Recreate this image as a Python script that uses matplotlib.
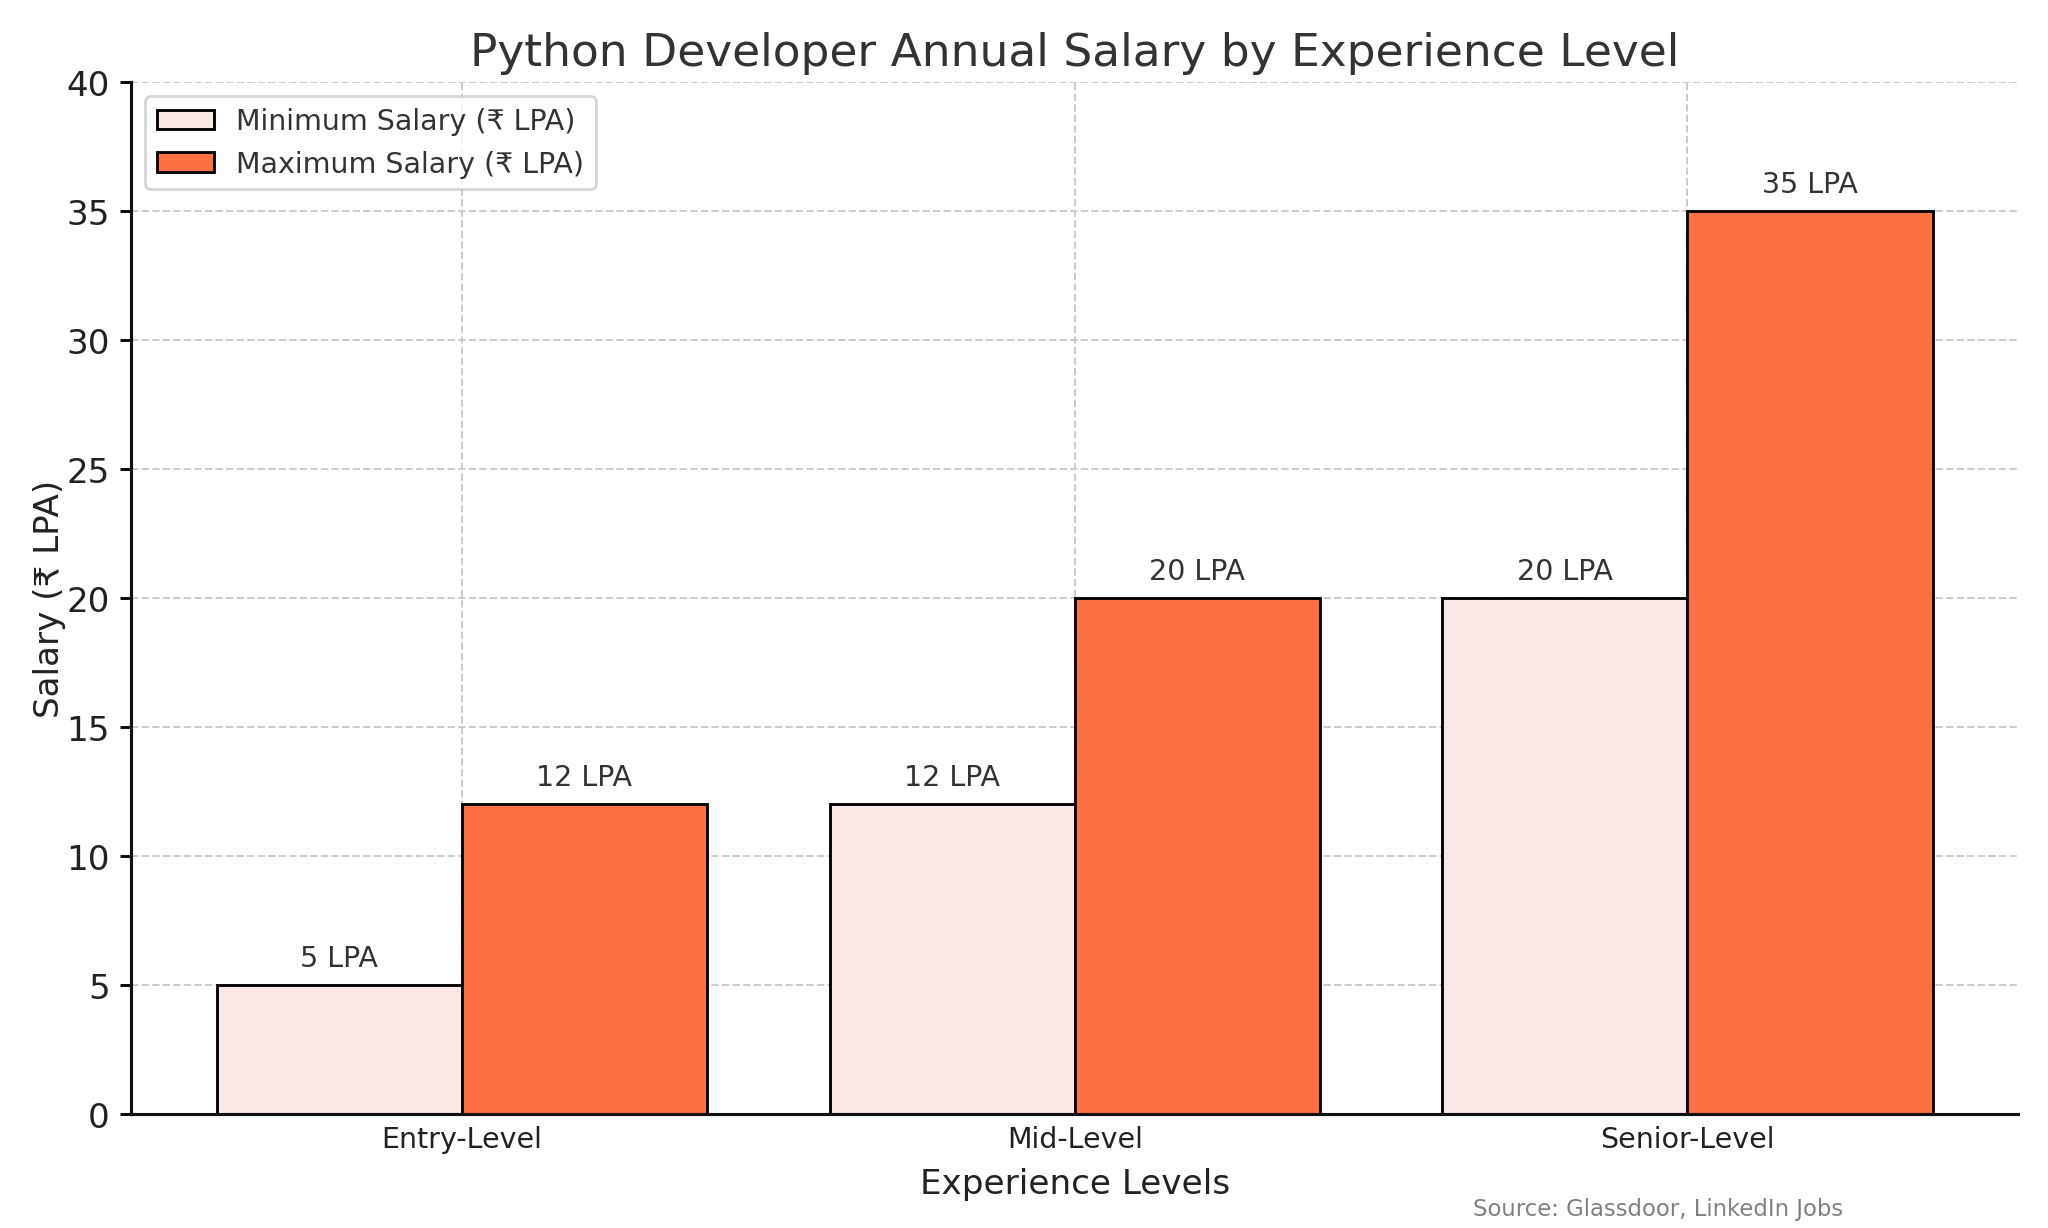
import matplotlib
matplotlib.use("Agg")
import matplotlib.pyplot as plt
import numpy as np

categories = ["Entry-Level", "Mid-Level", "Senior-Level"]
min_salary = [5, 12, 20]
max_salary = [12, 20, 35]
yticks = [0, 5, 10, 15, 20, 25, 30, 35, 40]

plt.rcParams['font.family'] = ['DejaVu Sans']
text_color = '#333333'

fig = plt.figure(figsize=(10, 6), dpi=204.8)
ax = fig.add_axes([0.064, 0.093, 0.9215, 0.8397])

x = np.arange(len(categories))
w = 0.4
b1 = ax.bar(x - w/2, min_salary, w, color='#FBE9E7', edgecolor='black', linewidth=1.0,
            label='Minimum Salary (₹ LPA)', zorder=2)
b2 = ax.bar(x + w/2, max_salary, w, color='#FF7043', edgecolor='black', linewidth=1.0,
            label='Maximum Salary (₹ LPA)', zorder=2)

for bars, vals in ((b1, min_salary), (b2, max_salary)):
    for r, v in zip(bars, vals):
        ax.text(r.get_x() + r.get_width()/2, v + 0.5, f"{v} LPA", ha='center', va='bottom',
                fontsize=10, color=text_color)

ax.set_xticks(x)
ax.set_xticklabels(categories, fontsize=10, color='#222222')
ax.set_yticks(yticks)
ax.set_ylim(0, 40)
ax.tick_params(axis='y', labelsize=12, labelcolor='#222222', length=4, width=1)
ax.tick_params(axis='x', length=0, pad=4)
ax.set_xlabel("Experience Levels", fontsize=12, color='#222222', labelpad=5)
ax.set_ylabel("Salary (₹ LPA)", fontsize=12, color='#222222', labelpad=0)
ax.set_title("Python Developer Annual Salary by Experience Level", fontsize=16, color=text_color, pad=6)

ax.grid(True, linestyle='--', color='#cccccc', linewidth=0.7, zorder=0)
ax.set_axisbelow(True)
for s in ('top', 'right'):
    ax.spines[s].set_visible(False)
for s in ('left', 'bottom'):
    ax.spines[s].set_color('#111111')
    ax.spines[s].set_linewidth(1.1)

leg = ax.legend(loc='upper left', fontsize=10, frameon=True, fancybox=True, framealpha=0.8,
                edgecolor='#cccccc')
for t in leg.get_texts():
    t.set_color(text_color)

fig.text(0.9, 0.006, "Source: Glassdoor, LinkedIn Jobs", ha='right', va='bottom', fontsize=8, color='gray')

fig.savefig("out.png", dpi=204.8)
